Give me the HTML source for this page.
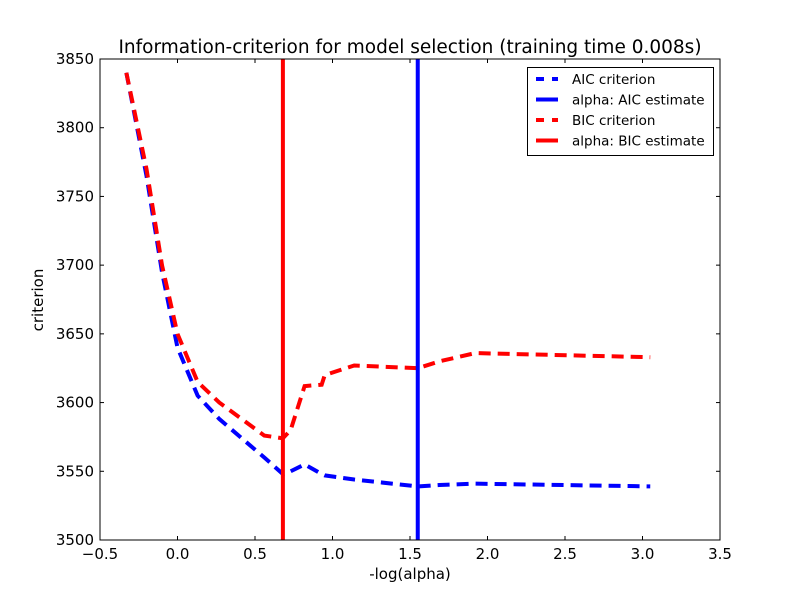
<!DOCTYPE html>
<html><head><meta charset="utf-8"><style>body{margin:0;background:#fff}svg{display:block;font-family:"DejaVu Sans","Liberation Sans",sans-serif}</style></head>
<body>
<svg id="c" width="800" height="600"></svg>
<script>
const xTicks=[-0.5,0.0,0.5,1.0,1.5,2.0,2.5,3.0,3.5];
const xTickLabels=["−0.5","0.0","0.5","1.0","1.5","2.0","2.5","3.0","3.5"];
const yTicks=[3500,3550,3600,3650,3700,3750,3800,3850];
const alphas=[-0.33,-0.2,-0.1,0.0,0.13,0.27,0.56,0.68,0.73,0.82,0.93,0.95,1.14,1.55,1.69,1.92,3.05];
const bic=[3840,3770,3700,3650,3615,3600,3576,3574,3580,3612,3613,3620,3627,3625,3630,3636,3633];
const aic=[3840,3765,3695,3640,3605,3588,3560,3548,3550,3555,3548,3547,3544,3539,3540,3541,3539];
const alphaAIC=1.55, alphaBIC=0.68;
const L=100,R=720,T=59,B=540,x0=-0.5,x1=3.5,y0=3500,y1=3850;
const X=v=>L+(v-x0)/(x1-x0)*(R-L), Y=v=>B-(v-y0)/(y1-y0)*(B-T);
const s=document.getElementById('c'),NS='http://www.w3.org/2000/svg';
function mk(t,a,p){const e=document.createElementNS(NS,t);for(const k in a)e.setAttribute(k,a[k]);(p||s).appendChild(e);return e;}
function line(xs,ys,col,dash,name){const e=mk('polyline',{points:xs.map((v,i)=>X(v)+','+Y(ys[i])).join(' '),fill:'none',stroke:col,'stroke-width':4,'stroke-dasharray':dash});

}
line(alphas,aic,'#0000ff','12 7','aic-criterion-line');
line(alphas,bic,'#ff0000','12 7','bic-criterion-line');
[[alphaBIC,'#ff0000','alpha-bic-line'],[alphaAIC,'#0000ff','alpha-aic-line']].forEach(([a,c,n])=>{const e=mk('line',{x1:X(a),x2:X(a),y1:T,y2:B,stroke:c,'stroke-width':4});

});
const f=mk('rect',{x:L,y:T,width:R-L,height:B-T,fill:'none',stroke:'#000','stroke-width':1});


xTicks.forEach((v,i)=>{const x=X(v);mk('line',{x1:x,x2:x,y1:B,y2:B-4,stroke:'#000'});mk('line',{x1:x,x2:x,y1:T,y2:T+4,stroke:'#000'});
const t=mk('text',{x:x,y:B+19,'text-anchor':'middle','font-size':15});t.textContent=xTickLabels[i];

});
yTicks.forEach(v=>{const y=Y(v);mk('line',{x1:L,x2:L+4,y1:y,y2:y,stroke:'#000'});mk('line',{x1:R,x2:R-4,y1:y,y2:y,stroke:'#000'});
const t=mk('text',{x:L-6,y:y+5,'text-anchor':'end','font-size':15});t.textContent=v;

});
const ti=mk('text',{x:410,y:53,'text-anchor':'middle','font-size':18.5});ti.textContent='Information-criterion for model selection (training time 0.008s)';


const xl=mk('text',{x:410,y:579,'text-anchor':'middle','font-size':15});xl.textContent='-log(alpha)';


const yl=mk('text',{x:43,y:300,'text-anchor':'middle','font-size':15,transform:'rotate(-90 43 300)'});yl.textContent='criterion';


const lg=mk('g',{});


mk('rect',{x:527.5,y:67.5,width:186,height:88,fill:'#fff',stroke:'#000'},lg);
const ents=[['AIC criterion','#0000ff',true],['alpha: AIC estimate','#0000ff',false],['BIC criterion','#ff0000',true],['alpha: BIC estimate','#ff0000',false]];
ents.forEach((e,i)=>{const y=79+i*20.5;
mk('line',{x1:536,x2:558,y1:y,y2:y,stroke:e[1],'stroke-width':4,'stroke-dasharray':e[2]?'8 8':'none'},lg);
const t=mk('text',{x:572,y:y+5,'font-size':13.5},lg);t.textContent=e[0];

});
</script>
</body></html>
